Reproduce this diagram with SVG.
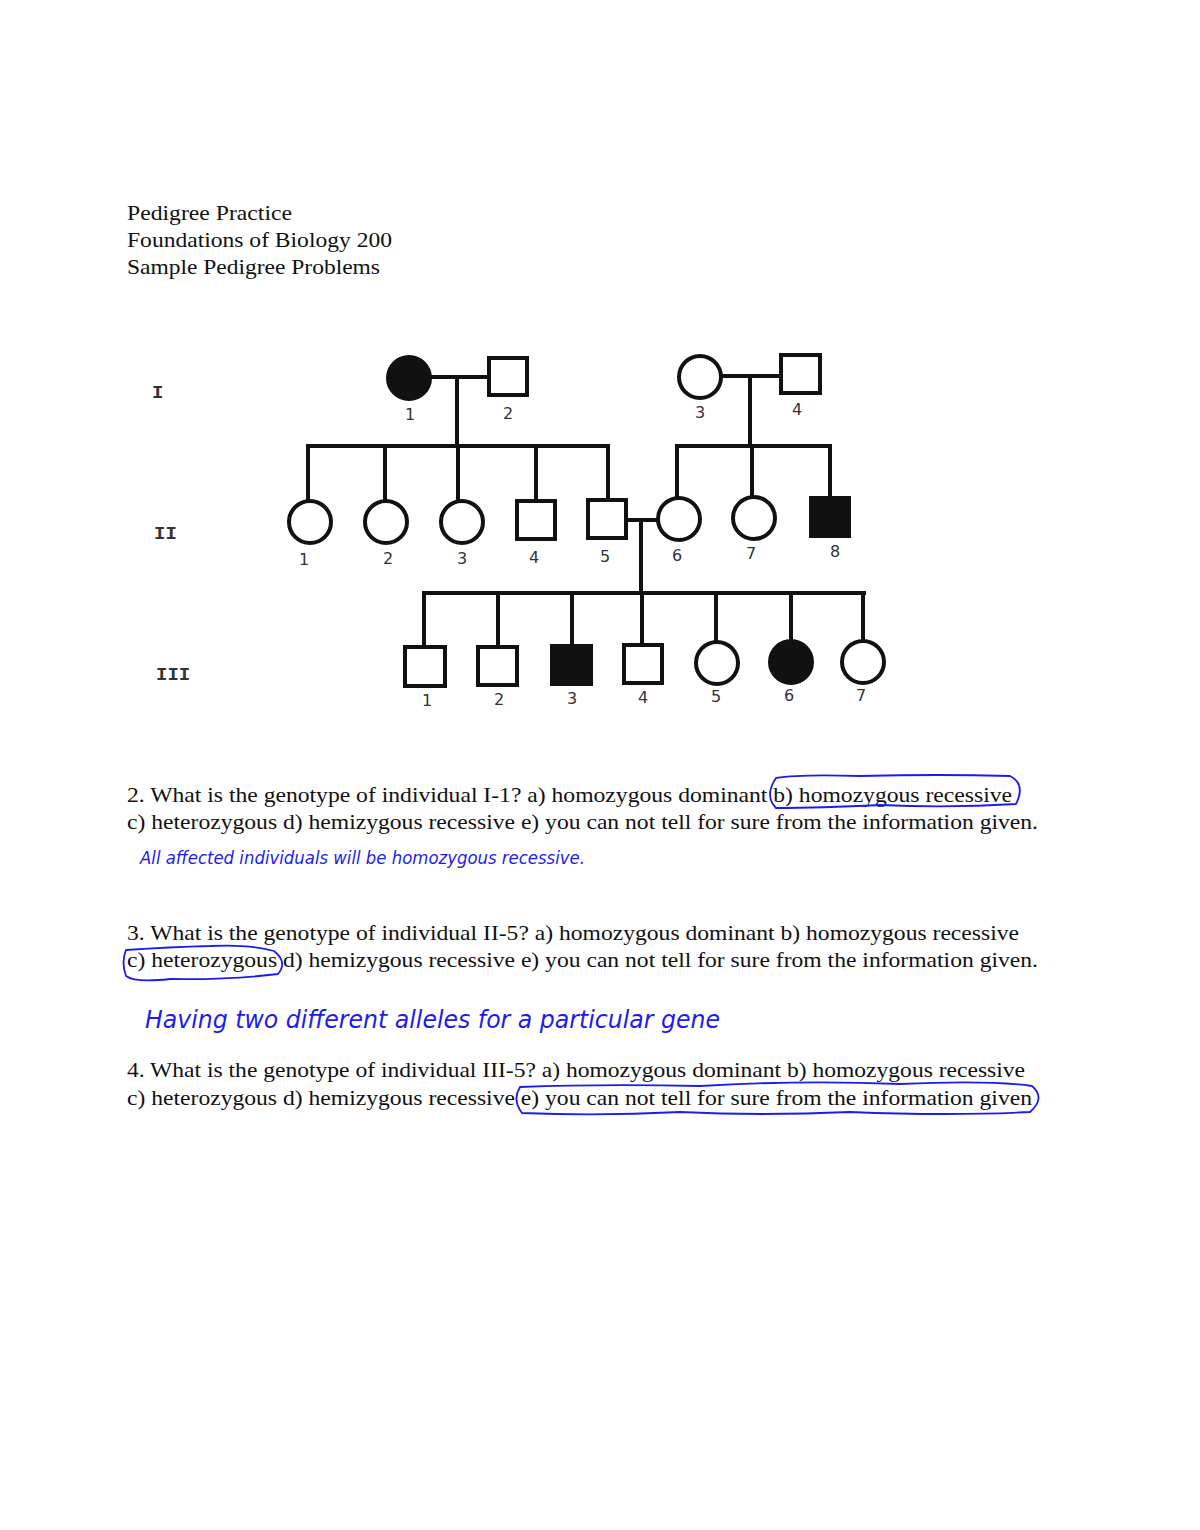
<svg xmlns="http://www.w3.org/2000/svg" width="1200" height="1530" viewBox="0 0 1200 1530">
<style>
.t{font-family:"Liberation Serif","Times New Roman",serif;font-size:21px;fill:#111}
.gen{font-family:"Liberation Mono","Courier New",monospace;font-size:19px;fill:#333;font-weight:bold}
.num{font-family:"DejaVu Sans","Liberation Sans",sans-serif;font-size:16px;fill:#333;text-anchor:middle}
.sym{fill:#fff;stroke:#111;stroke-width:4}
.aff{fill:#111;stroke:#111;stroke-width:4}
.ln{stroke:#111;stroke-width:4;fill:none;stroke-linecap:square}
.hw{font-family:"DejaVu Sans","Liberation Sans",sans-serif;font-style:italic;fill:#1c1cf0}
.ring{fill:none;stroke:#1c1cf0;stroke-width:1.8}
</style>
<rect width="1200" height="1530" fill="#fff"/>
<g id="title">
<text class="t" x="127" y="220" textLength="165" lengthAdjust="spacingAndGlyphs">Pedigree Practice</text>
<text class="t" x="127" y="247" textLength="265" lengthAdjust="spacingAndGlyphs">Foundations of Biology 200</text>
<text class="t" x="127" y="274" textLength="253" lengthAdjust="spacingAndGlyphs">Sample Pedigree Problems</text>
</g>
<g id="generation-labels">
<text class="gen" x="152" y="398">I</text>
<text class="gen" x="154" y="539">II</text>
<text class="gen" x="156" y="680">III</text>
</g>
<g id="connectors">
<path class="ln" d="M431 377H489M457 377V446M308 446H608M308 446V501M385 446V501M458 446V501M536 446V501M608 446V500"/>
<path class="ln" d="M721 376H781M750 376V446M677 446H830M677 446V498M752 446V498M830 446V498"/>
<path class="ln" d="M626 520H658M641 520V593M424 593H864M424 593V646M498 593V646M572 593V645M642 593V645M716 593V642M791 593V641M863 593V641"/>
</g>
<g id="I-1"><circle class="aff" cx="409" cy="378" r="21"/><text class="num" x="410" y="420">1</text></g>
<g id="I-2"><rect class="sym" x="489" y="358" width="38" height="37"/><text class="num" x="508" y="419">2</text></g>
<g id="I-3"><circle class="sym" cx="700" cy="377" r="21"/><text class="num" x="700" y="418">3</text></g>
<g id="I-4"><rect class="sym" x="781" y="355" width="39" height="38"/><text class="num" x="797" y="415">4</text></g>
<g id="II-1"><circle class="sym" cx="310" cy="522" r="21"/><text class="num" x="304" y="565">1</text></g>
<g id="II-2"><circle class="sym" cx="386" cy="522" r="21"/><text class="num" x="388" y="564">2</text></g>
<g id="II-3"><circle class="sym" cx="462" cy="522" r="21"/><text class="num" x="462" y="564">3</text></g>
<g id="II-4"><rect class="sym" x="517" y="501" width="38" height="38"/><text class="num" x="534" y="563">4</text></g>
<g id="II-5"><rect class="sym" x="588" y="500" width="38" height="38"/><text class="num" x="605" y="562">5</text></g>
<g id="II-6"><circle class="sym" cx="679" cy="519" r="21"/><text class="num" x="677" y="561">6</text></g>
<g id="II-7"><circle class="sym" cx="754" cy="518" r="21"/><text class="num" x="751" y="559">7</text></g>
<g id="II-8"><rect class="aff" x="811" y="498" width="38" height="38"/><text class="num" x="835" y="557">8</text></g>
<g id="III-1"><rect class="sym" x="405" y="647" width="40" height="39"/><text class="num" x="427" y="706">1</text></g>
<g id="III-2"><rect class="sym" x="478" y="647" width="39" height="38"/><text class="num" x="499" y="705">2</text></g>
<g id="III-3"><rect class="aff" x="552" y="646" width="39" height="38"/><text class="num" x="572" y="704">3</text></g>
<g id="III-4"><rect class="sym" x="624" y="645" width="38" height="38"/><text class="num" x="643" y="703">4</text></g>
<g id="III-5"><circle class="sym" cx="717" cy="663" r="21"/><text class="num" x="716" y="702">5</text></g>
<g id="III-6"><circle class="aff" cx="791" cy="662" r="21"/><text class="num" x="789" y="701">6</text></g>
<g id="III-7"><circle class="sym" cx="863" cy="662" r="21"/><text class="num" x="861" y="701">7</text></g>
<g id="q2">
<text class="t" x="127" y="802" textLength="885" lengthAdjust="spacingAndGlyphs">2. What is the genotype of individual I-1? a) homozygous dominant b) homozygous recessive</text>
<text class="t" x="127" y="829" textLength="911" lengthAdjust="spacingAndGlyphs">c) heterozygous d) hemizygous recessive e) you can not tell for sure from the information given.</text>
<path class="ring" d="M776 778 Q800 774 860 776 Q940 774 1010 776 Q1026 784 1016 804 Q950 808 880 805 Q820 808 776 808 Q764 796 776 778Z"/>
<text class="hw" x="140" y="864" font-size="17" textLength="445" lengthAdjust="spacingAndGlyphs">All affected individuals will be homozygous recessive.</text>
</g>
<g id="q3">
<text class="t" x="127" y="940" textLength="892" lengthAdjust="spacingAndGlyphs">3. What is the genotype of individual II-5? a) homozygous dominant b) homozygous recessive</text>
<text class="t" x="127" y="967" textLength="911" lengthAdjust="spacingAndGlyphs">c) heterozygous d) hemizygous recessive e) you can not tell for sure from the information given.</text>
<path class="ring" d="M126 950 Q170 947 210 946 Q250 944 274 951 Q288 962 278 974 Q230 980 170 979 Q135 983 126 976 Q121 962 126 950Z"/>
<text class="hw" x="145" y="1028" font-size="25" textLength="575" lengthAdjust="spacingAndGlyphs">Having two different alleles for a particular gene</text>
</g>
<g id="q4">
<text class="t" x="127" y="1077" textLength="898" lengthAdjust="spacingAndGlyphs">4. What is the genotype of individual III-5? a) homozygous dominant b) homozygous recessive</text>
<text class="t" x="127" y="1105" textLength="905" lengthAdjust="spacingAndGlyphs">c) heterozygous d) hemizygous recessive e) you can not tell for sure from the information given</text>
<path class="ring" d="M520 1087 Q600 1084 700 1086 Q800 1080 900 1084 Q990 1080 1032 1086 Q1046 1098 1030 1112 Q950 1116 850 1112 Q760 1116 680 1112 Q600 1116 522 1113 Q512 1100 520 1087Z"/>
</g>
</svg>
